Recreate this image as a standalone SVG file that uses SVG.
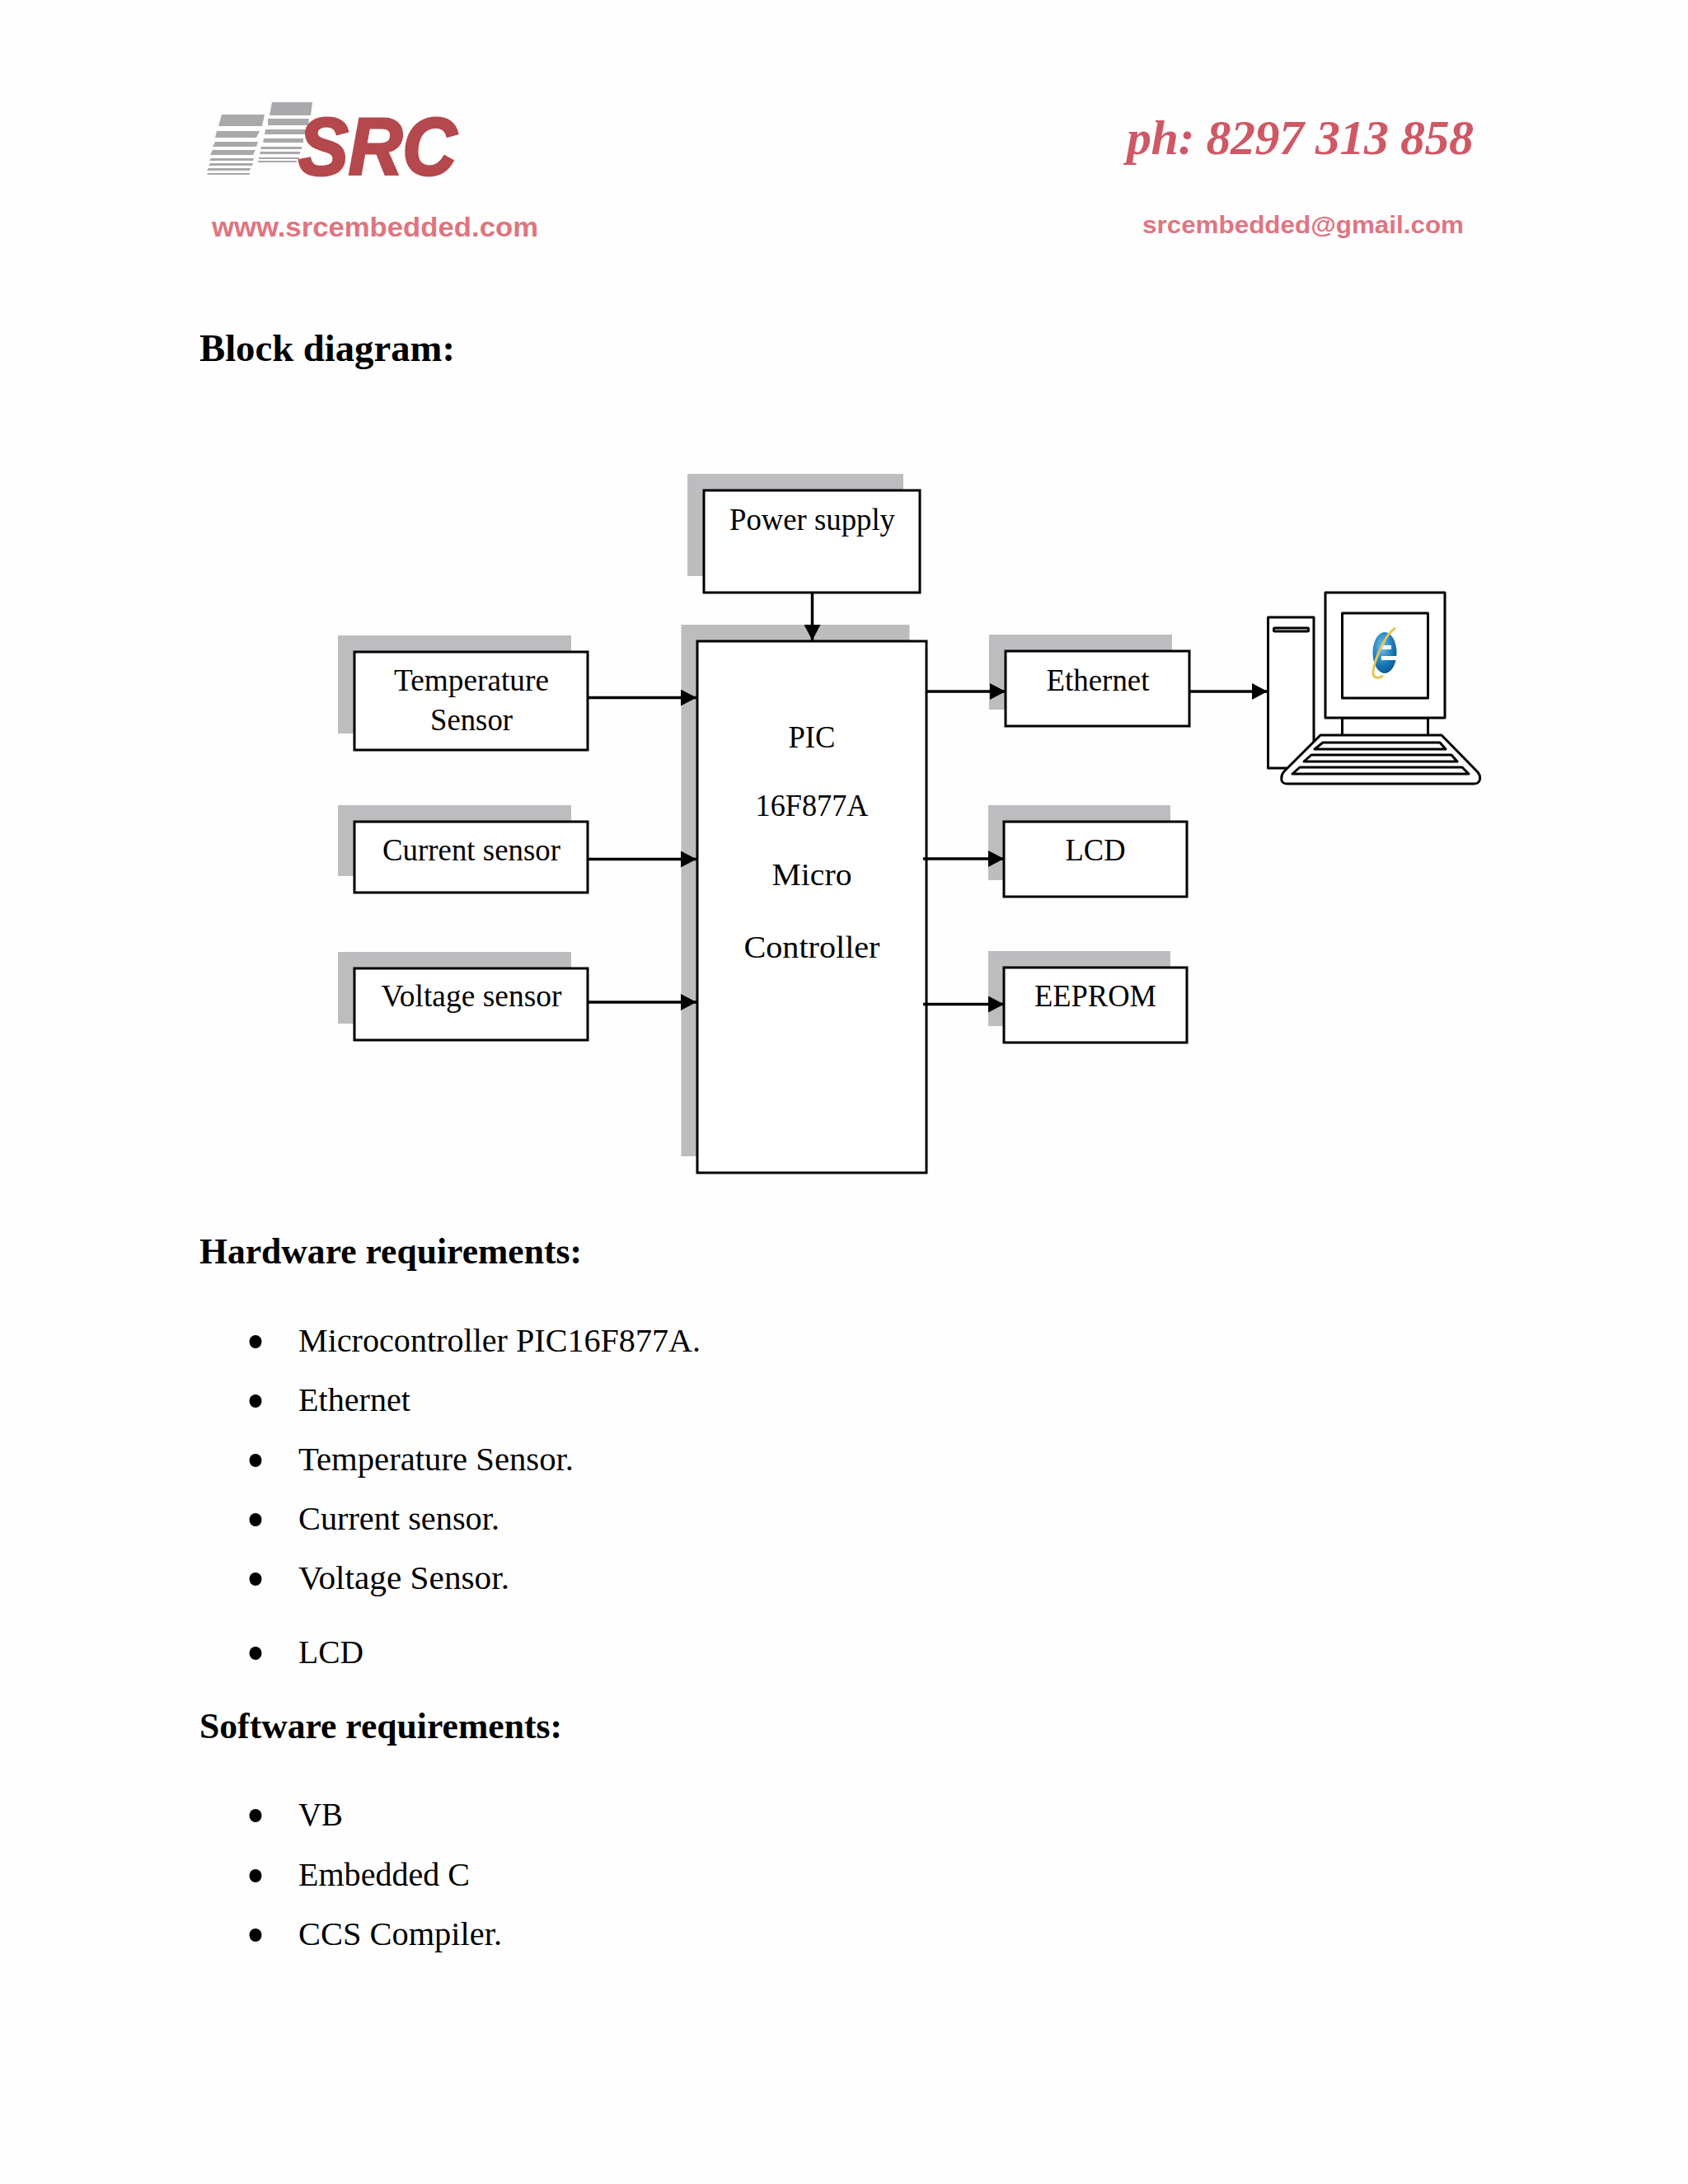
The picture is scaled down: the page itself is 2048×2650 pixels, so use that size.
<svg xmlns="http://www.w3.org/2000/svg" width="2048" height="2650" viewBox="0 0 2048 2650">
<style>
.sh{fill:#bdbdbf}
.bx{fill:#fff;stroke:#000;stroke-width:3}
.t{font-family:"Liberation Serif","Times New Roman",serif;font-size:38px;fill:#000;text-anchor:middle}
.b{font-family:"Liberation Serif","Times New Roman",serif;font-size:41px;fill:#000}
.h{font-family:"Liberation Serif","Times New Roman",serif;font-size:44px;font-weight:bold;fill:#000}
.c{stroke:#000;stroke-width:3.5;fill:none}
.pc{fill:#fff;stroke:#000;stroke-width:3;stroke-linejoin:round}
.g{fill:#a9a9ab}
.dot{fill:#000}
</style>
<defs>
<marker id="ah" markerUnits="userSpaceOnUse" markerWidth="20" markerHeight="20" refX="19" refY="10" orient="auto"><path d="M0 0L19 10L0 20Z" fill="#000"/></marker>
<radialGradient id="ie" cx="0.4" cy="0.35" r="0.75"><stop offset="0" stop-color="#6ec3ea"/><stop offset="0.6" stop-color="#1878b8"/><stop offset="1" stop-color="#0c4f8a"/></radialGradient>
</defs>
<rect width="2048" height="2650" fill="#fefefe"/>
<g id="logo">
<path class="g" d="M269 139H321L318 153H265Z M263 159H315L311 167H261Z M261 172H313L311 178H258Z M258 182H310L307 188H255Z M256 192H308L307 195H254Z M255 198H307L306 201H253Z M253 204H304L303 207H251Z M252 210H303V212H251Z"/>
<path class="g" d="M330 124H379L377 140H327Z M325 144H375L374 152H325Z M322 157H372L371 163H321Z M320 168H368L368 173H319Z M317 178H366V181H316Z M316 184H364V187H315Z M314 191H363V193H314Z M313 195H360V197H313Z"/>
<text x="362" y="212" font-family="Liberation Sans,Arial,sans-serif" font-size="98" font-weight="bold" font-style="italic" fill="#b5484c" stroke="#b5484c" stroke-width="3" textLength="192" lengthAdjust="spacingAndGlyphs">SRC</text>
<text x="257" y="287" font-family="Liberation Sans,Arial,sans-serif" font-size="33" font-weight="bold" fill="#e0747f" textLength="396" lengthAdjust="spacingAndGlyphs">www.srcembedded.com</text>
</g>
<g id="contact">
<text x="1367" y="187" font-family="Liberation Serif,Times New Roman,serif" font-size="60" font-weight="bold" font-style="italic" fill="#cf5866" textLength="421" lengthAdjust="spacing">ph: 8297 313 858</text>
<text x="1386" y="283" font-family="Liberation Sans,Arial,sans-serif" font-size="30" font-weight="bold" fill="#e07582" textLength="390" lengthAdjust="spacingAndGlyphs">srcembedded@gmail.com</text>
</g>
<text class="h" style="font-size:47px" x="242" y="438" textLength="310" lengthAdjust="spacingAndGlyphs">Block diagram:</text>
<g id="power"><rect class="sh" x="834" y="575" width="262" height="124"/><rect class="bx" x="854" y="595" width="262" height="124"/><text class="t" x="985.5" y="643" textLength="201" lengthAdjust="spacingAndGlyphs">Power supply</text></g>
<g id="pic"><rect class="sh" x="826.5" y="758" width="277" height="645"/><rect class="bx" x="846" y="778" width="278" height="645"/>
<text class="t" x="985" y="907" textLength="57" lengthAdjust="spacingAndGlyphs">PIC</text><text class="t" x="985" y="990" textLength="137" lengthAdjust="spacingAndGlyphs">16F877A</text><text class="t" x="985" y="1074" textLength="97" lengthAdjust="spacingAndGlyphs">Micro</text><text class="t" x="985" y="1162" textLength="165" lengthAdjust="spacingAndGlyphs">Controller</text></g>
<g id="temperature"><rect class="sh" x="410" y="771" width="283" height="119"/><rect class="bx" x="430" y="791" width="283" height="119"/><text class="t" x="572" y="838" textLength="188" lengthAdjust="spacingAndGlyphs">Temperature</text><text class="t" x="572" y="886" textLength="100" lengthAdjust="spacingAndGlyphs">Sensor</text></g>
<g id="current"><rect class="sh" x="410" y="977" width="283" height="86"/><rect class="bx" x="430" y="997" width="283" height="86"/><text class="t" x="572" y="1044" textLength="216" lengthAdjust="spacingAndGlyphs">Current sensor</text></g>
<g id="voltage"><rect class="sh" x="410" y="1155" width="283" height="87"/><rect class="bx" x="430" y="1175" width="283" height="87"/><text class="t" x="572" y="1221" textLength="219" lengthAdjust="spacingAndGlyphs">Voltage sensor</text></g>
<g id="ethernet"><rect class="sh" x="1200" y="770" width="222" height="91"/><rect class="bx" x="1220" y="790" width="223" height="91"/><text class="t" x="1332" y="838" textLength="125" lengthAdjust="spacingAndGlyphs">Ethernet</text></g>
<g id="lcd"><rect class="sh" x="1199" y="977" width="221" height="91"/><rect class="bx" x="1218" y="997" width="222" height="91"/><text class="t" x="1329" y="1044" textLength="73" lengthAdjust="spacingAndGlyphs">LCD</text></g>
<g id="eeprom"><rect class="sh" x="1199" y="1154" width="221" height="91"/><rect class="bx" x="1218" y="1174" width="222" height="91"/><text class="t" x="1329" y="1221" textLength="148" lengthAdjust="spacingAndGlyphs">EEPROM</text></g>
<g id="computer">
<rect class="pc" x="1538.5" y="749" width="55.5" height="183"/>
<rect class="pc" x="1545.5" y="762" width="42" height="4" rx="1"/>
<rect class="pc" x="1628.5" y="871" width="104" height="22"/>
<rect class="pc" x="1608" y="719" width="145" height="152"/>
<rect class="pc" x="1628.5" y="744" width="104" height="103"/>
<path class="pc" d="M1602 892H1749L1793 937Q1797 942 1795 947Q1794 951 1788 951H1562Q1556 951 1555 947Q1554 940 1558 936Z"/>
<path class="pc" d="M1605 901H1747L1754 909H1595Z M1591 916H1761L1768 924H1582Z M1577 931H1774L1782 939H1568Z"/>
<ellipse cx="1680" cy="792" rx="14.5" ry="25" fill="url(#ie)"/>
<rect x="1677" y="783" width="11" height="5" fill="#fff"/>
<rect x="1676" y="796" width="20" height="5" fill="#fff"/>
<path d="M1693 762C1682 768 1668 798 1666 815C1665 823 1672 824 1678 820" fill="none" stroke="#e3c65a" stroke-width="3"/>
</g>
<g id="connectors">
<path class="c" marker-end="url(#ah)" d="M985.5 719V777"/>
<path class="c" marker-end="url(#ah)" d="M713 846.5H845"/>
<path class="c" marker-end="url(#ah)" d="M713 1042.5H845"/>
<path class="c" marker-end="url(#ah)" d="M713 1216H845"/>
<path class="c" marker-end="url(#ah)" d="M1124 839H1220"/>
<path class="c" marker-end="url(#ah)" d="M1120 1042H1218"/>
<path class="c" marker-end="url(#ah)" d="M1120 1218.5H1218"/>
<path class="c" marker-end="url(#ah)" d="M1443 839H1538"/>
</g>
<text class="h" x="242" y="1533" textLength="464" lengthAdjust="spacingAndGlyphs">Hardware requirements:</text>
<g id="hardware">
<ellipse class="dot" cx="310" cy="1628" rx="7.5" ry="8"/><text class="b" x="362" y="1640" textLength="488" lengthAdjust="spacingAndGlyphs">Microcontroller PIC16F877A.</text>
<ellipse class="dot" cx="310" cy="1700" rx="7.5" ry="8"/><text class="b" x="362" y="1712" textLength="136" lengthAdjust="spacingAndGlyphs">Ethernet</text>
<ellipse class="dot" cx="310" cy="1772" rx="7.5" ry="8"/><text class="b" x="362" y="1784" textLength="334" lengthAdjust="spacingAndGlyphs">Temperature Sensor.</text>
<ellipse class="dot" cx="310" cy="1844" rx="7.5" ry="8"/><text class="b" x="362" y="1856" textLength="244" lengthAdjust="spacingAndGlyphs">Current sensor.</text>
<ellipse class="dot" cx="310" cy="1916" rx="7.5" ry="8"/><text class="b" x="362" y="1928" textLength="256" lengthAdjust="spacingAndGlyphs">Voltage Sensor.</text>
<ellipse class="dot" cx="310" cy="2006" rx="7.5" ry="8"/><text class="b" x="362" y="2018" textLength="79" lengthAdjust="spacingAndGlyphs">LCD</text>
</g>
<text class="h" x="242" y="2109" textLength="440" lengthAdjust="spacingAndGlyphs">Software requirements:</text>
<g id="software">
<ellipse class="dot" cx="310" cy="2203" rx="7.5" ry="8"/><text class="b" x="362" y="2215" textLength="54" lengthAdjust="spacingAndGlyphs">VB</text>
<ellipse class="dot" cx="310" cy="2276" rx="7.5" ry="8"/><text class="b" x="362" y="2288" textLength="208" lengthAdjust="spacingAndGlyphs">Embedded C</text>
<ellipse class="dot" cx="310" cy="2348" rx="7.5" ry="8"/><text class="b" x="362" y="2360" textLength="247" lengthAdjust="spacingAndGlyphs">CCS Compiler.</text>
</g>
</svg>
